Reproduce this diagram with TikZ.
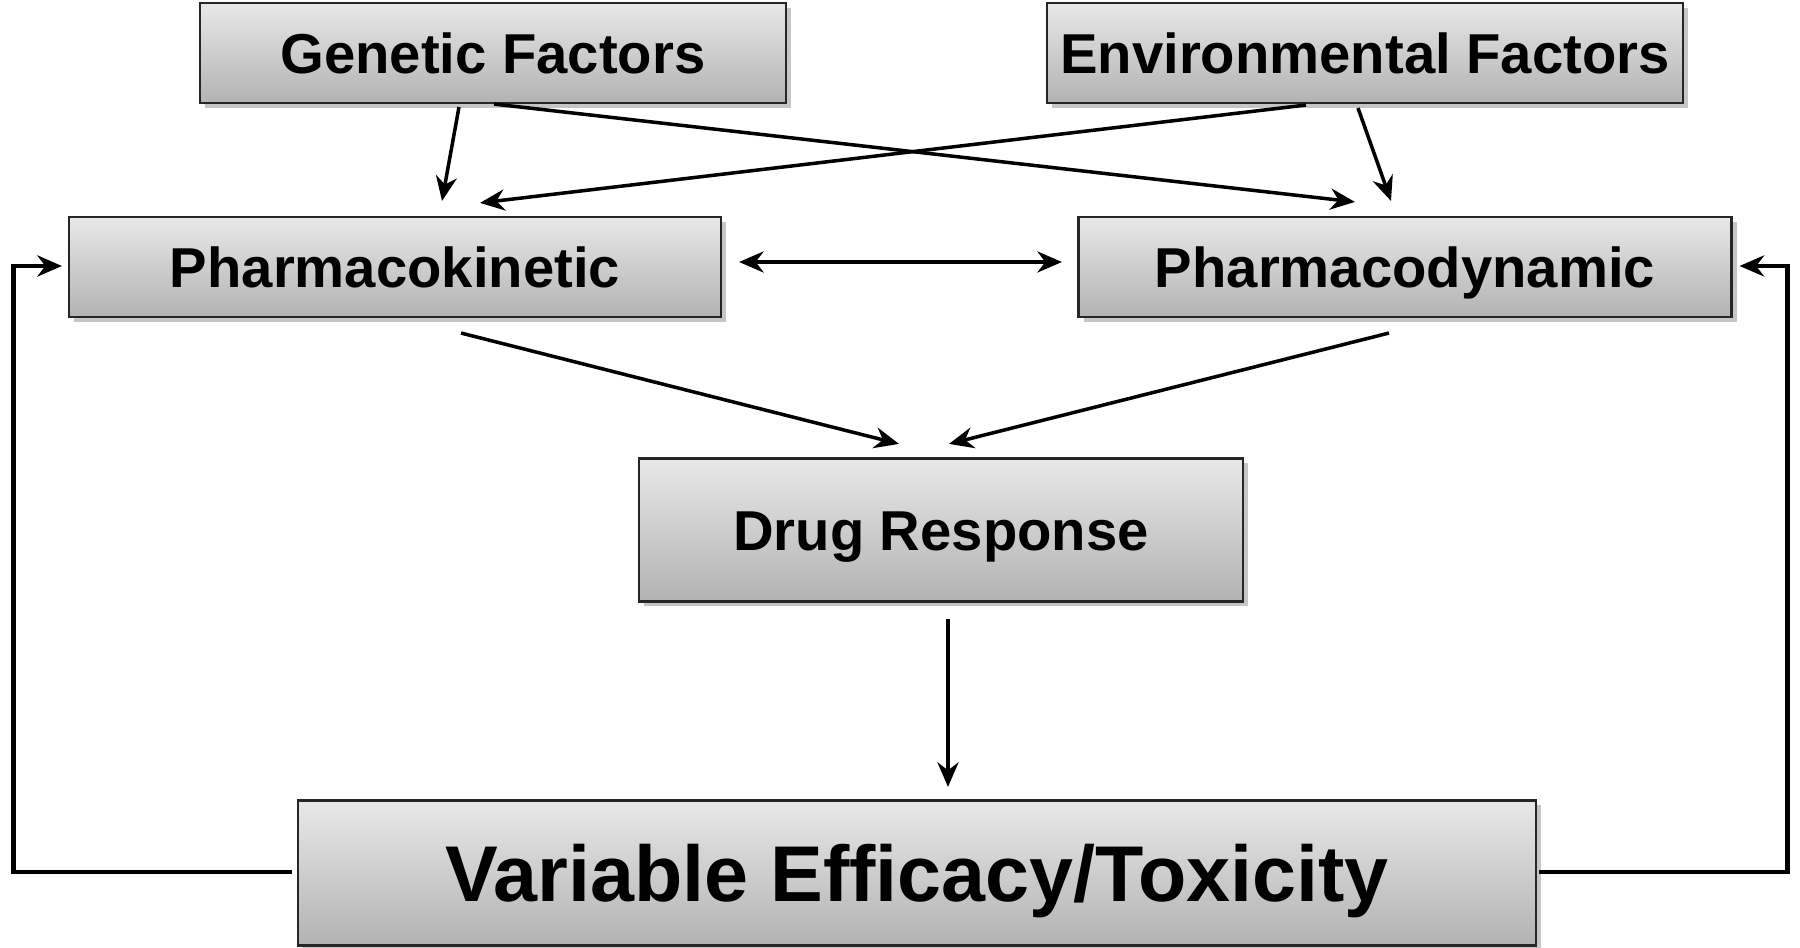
\documentclass[tikz,border=0pt]{standalone}
\usepackage{fontspec}
\setmainfont{Liberation Sans}
\usetikzlibrary{shapes,shadows,calc,arrows.meta}

\tikzset{
  factor/.style={draw=black!85, line width=0.6pt, rectangle, top color=gray!18, bottom color=gray!60,
    drop shadow={shadow xshift=0.05cm, shadow yshift=-0.05cm, opacity=0.45},
    minimum height=1cm, inner sep=0pt, text height=11.5pt, text depth=0pt,
    font=\fontsize{16}{18}\selectfont\bfseries},
  link/.style={line width=1pt, -{Stealth[length=7pt,width=6pt]}},
  loopback/.style={line width=1.4pt, -{Stealth[length=7pt,width=6pt]}}
}

\begin{document}
\begin{tikzpicture}
  \useasboundingbox (0,0) rectangle (18,-9.48);

  \node[factor, minimum width=5.86cm] (gen) at (4.93,-0.53) {Genetic Factors};
  \node[factor, minimum width=6.36cm] (env) at (13.65,-0.53) {Environmental Factors};
  \node[factor, minimum width=6.52cm] (pk) at (3.95,-2.67) {Pharmacokinetic};
  \node[factor, minimum width=6.53cm] (pd) at (14.05,-2.67) {Pharmacodynamic};
  \node[factor, minimum width=6.04cm, minimum height=1.43cm] (dr) at (9.41,-5.30) {Drug Response};
  \node[factor, minimum width=12.38cm, minimum height=1.45cm, text height=16.1pt,
        font=\fontsize{22.5}{26}\selectfont\bfseries] (var) at (9.17,-8.73) {Variable Efficacy/Toxicity};

%  \draw[link] (gen) -- (pk);
  \draw[link] ($(gen.south)+(-0.34,-0.03)$) -- ($(pk.north)+(0.47,0.15)$);
  \draw[link] ($(gen.south)+(0.01,0)$) -- ($(pd.north)+(-0.5,0.14)$);
  \draw[link] ($(env.south)+(-0.59,-0.01)$) -- ($(pk.north)+(0.85,0.13)$);
  \draw[link] ($(env.south)+(-0.07,-0.04)$) -- ($(pd.north)+(-0.14,0.15)$);

  \draw[link, {Stealth[length=7pt,width=6pt]}-{Stealth[length=7pt,width=6pt]}] ($(pk.east)+(0.17,0.05)$) -- ($(pd.west)+(-0.155,0.05)$);

  \draw[link] ($(pk.south)+(0.66,-0.15)$) -- ($(dr.north)+(-0.42,0.135)$);
  \draw[link] ($(pd.south)+(-0.16,-0.15)$) -- ($(dr.north)+(0.08,0.135)$);
  \draw[link] ($(dr.south)+(0.07,-0.165)$) -- ($(var.north)+(0.31,0.125)$);

  % feedback
  \draw[loopback] ($(var.west)+(-0.05,0.01)$) -- ++(-2.78,0) |- ($(pk.west)+(-0.06,0.01)$);
  \draw[loopback] ($(var.east)+(0.02,0.01)$) -- ++(2.48,0) |- ($(pd.east)+(0.07,0.01)$);

\end{tikzpicture}
\end{document}
